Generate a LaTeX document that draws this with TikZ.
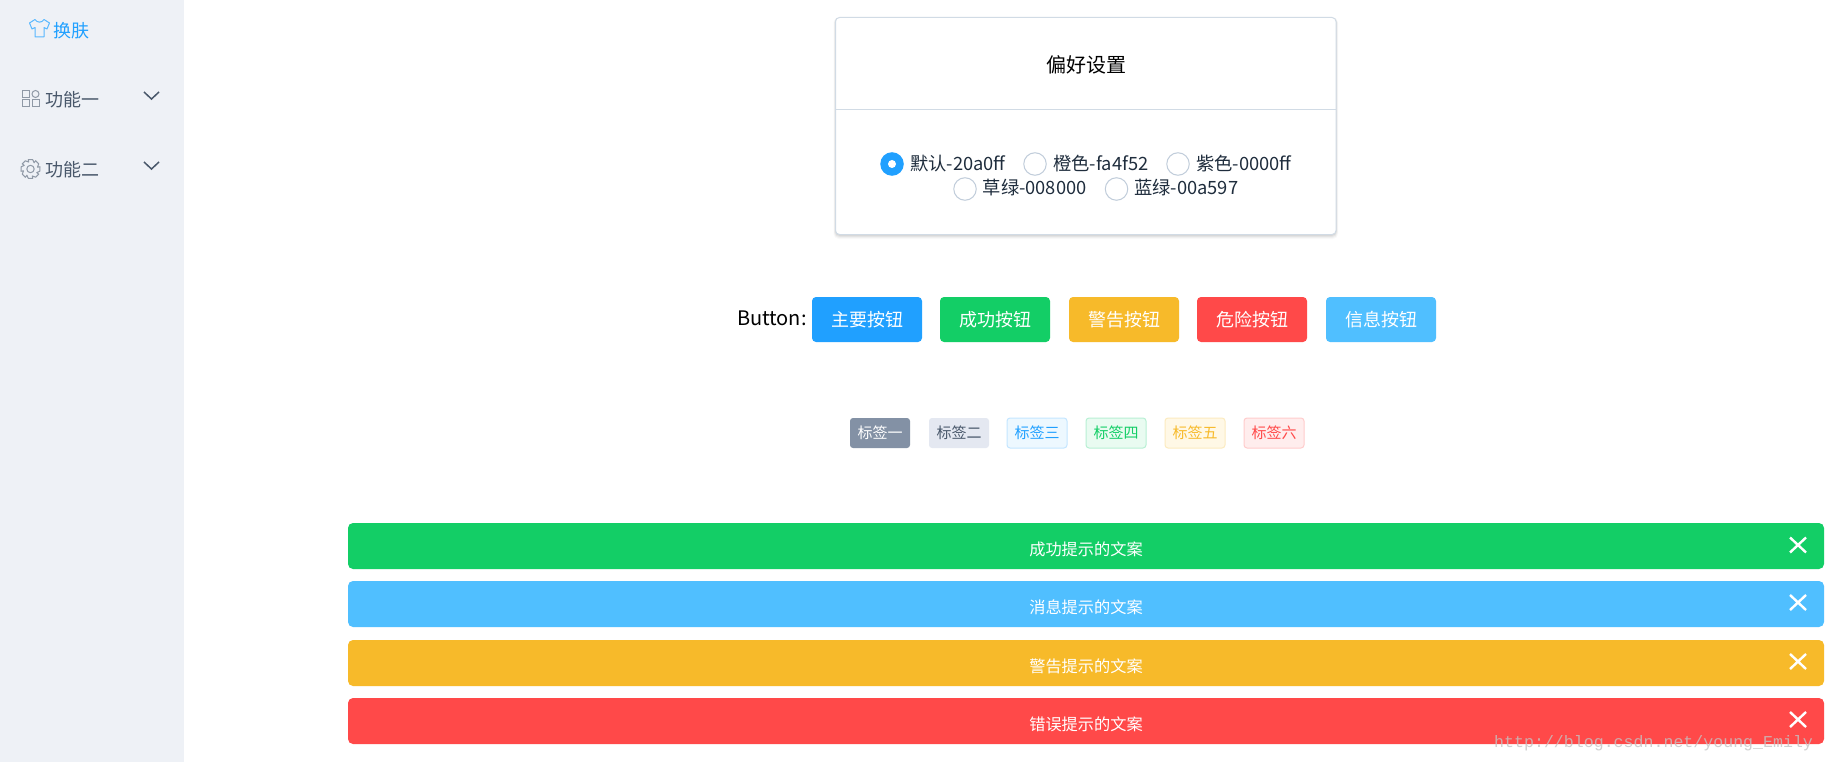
\documentclass[tikz,border=0pt]{standalone}
\usepackage{fontspec}
\setmainfont{Noto Sans CJK SC}
\newfontfamily\wmfont{Liberation Mono}
\definecolor{sidebg}{HTML}{EEF1F6}
\definecolor{sidetx}{HTML}{48576A}
\definecolor{iconc}{HTML}{8F99A6}
\definecolor{blu}{HTML}{20A0FF}
\definecolor{grn}{HTML}{13CE66}
\definecolor{yel}{HTML}{F7BA2A}
\definecolor{red2}{HTML}{FF4949}
\definecolor{sky}{HTML}{50BFFF}
\definecolor{cardb}{HTML}{D1DBE5}
\definecolor{radb}{HTML}{C0CCDA}
\definecolor{radt}{HTML}{1F2D3D}
\definecolor{wmc}{HTML}{C4C4C4}
\definecolor{t1}{HTML}{8391A5}
\definecolor{t2}{HTML}{E4E8F1}
\definecolor{t3}{HTML}{EDF8FF}\definecolor{t3b}{HTML}{C4E6FF}
\definecolor{t4}{HTML}{E9FBF1}\definecolor{t4b}{HTML}{B8F0D4}
\definecolor{t5}{HTML}{FFF8E6}\definecolor{t5b}{HTML}{FCEBC0}
\definecolor{t6}{HTML}{FFEDED}\definecolor{t6b}{HTML}{FFCCCC}
\newcommand{\fsz}[1]{\fontsize{#1}{#1}\selectfont}
\newcommand{\alerttext}[1]{\raisebox{-9pt}[0pt][0pt]{#1}}
\tikzset{
  txt/.style={inner sep=0pt,font=\fsz{18}},
  radiotxt/.style={txt,anchor=west,text=radt,font=\fsz{18.3}},
  radio/.style={circle,draw=radb,fill=white,line width=1pt,minimum size=22.5pt,inner sep=0pt},
  radioon/.style={circle,draw=blu,fill=blu,line width=1pt,minimum size=22.5pt,inner sep=0pt},
  btn/.style={fill=#1,rounded corners=4pt,minimum width=110pt,minimum height=45pt,inner sep=0pt,text=white,font=\fsz{18}},
  tagbox/.style={rounded corners=3pt,minimum width=60pt,minimum height=30pt,inner sep=0pt,font=\fsz{15},line width=1pt},
  alertbar/.style={fill=#1,rounded corners=5pt,minimum width=1476pt,minimum height=46pt,inner sep=0pt,text=white,font=\fsz{16.2}},
  closex/.style={draw=white,line width=2.4pt},
  chev/.style={draw=sidetx,line width=1.5pt},
  icon/.style={draw=iconc,line width=1pt}
}
\begin{document}
\begin{tikzpicture}[x=1pt,y=-1pt]
\useasboundingbox (0,0) rectangle (1825,762);
\fill[white] (0,0) rectangle (1825,762);
% sidebar
\fill[sidebg] (0,0) rectangle (184,762);
\draw[draw=blu!75,line width=1pt,line join=round] (35,19.5) -- (29.5,23) -- (32,29) -- (35,27.5) -- (35,37) -- (44,37) -- (44,27.5) -- (47,29) -- (49.5,23) -- (44,19.5) .. controls (42,23) and (37,23) .. (35,19.5) -- cycle;
\node[txt,anchor=west,text=blu] (skin) at (53.5,31) {换肤};
\draw[icon] (22.5,90.5) rectangle (29.5,97.5);
\draw[icon] (22.5,100) rectangle (29.5,107);
\draw[icon] (32,100) rectangle (39,107);
\draw[icon] (35.5,94) circle (3.5);
\node[txt,anchor=west,text=sidetx] (f1) at (45,100) {功能一};
\draw[chev] (144,92) -- (151.5,99) -- (159,92);
\begin{scope}[shift={(30.5,169)}]
\foreach \a in {0,45,...,315}
  \draw[icon,line join=round,line cap=round] (\a-13:9.7) -- (\a+13:9.7) -- (\a+30:7.2) -- (\a+32:9.7);
\draw[icon] (0,0) circle (3.7);
\end{scope}
\node[txt,anchor=west,text=sidetx] (f2) at (45,170) {功能二};
\draw[chev] (144,162) -- (151.5,169) -- (159,162);
% card
\foreach \s/\o in {4/.025,3/.035,2/.045,1/.055}
  \fill[black,opacity=\o,rounded corners=5pt] (835.5-\s/2,17.5) rectangle (1336+\s/2,235+\s);
\draw[draw=cardb,fill=white,line width=1pt,rounded corners=4pt] (835.5,17.5) rectangle (1336,234.5);
\draw[draw=cardb,line width=1pt] (835.5,109.5) -- (1336,109.5);
\node[txt,font=\fsz{20},text=black] (title) at (1086,64.5) {偏好设置};
\node[radioon] (r1) at (892,164) {};
\fill[white] (r1.center) circle (4);
\node[radiotxt] (l1) at (910,164) {默认-20a0ff};
\node[radio] (r2) at (1035,164) {};
\node[radiotxt] (l2) at (1053,164) {橙色-fa4f52};
\node[radio] (r3) at (1178,164) {};
\node[radiotxt] (l3) at (1196,164) {紫色-0000ff};
\node[radio] (r4) at (965,189) {};
\node[radiotxt] (l4) at (982.5,188) {草绿-008000};
\node[radio] (r5) at (1116.5,189) {};
\node[radiotxt] (l5) at (1134,188) {蓝绿-00a597};
% buttons
\node[txt,anchor=west,text=black,font=\fsz{20}] (blabel) at (737,318.5) {Button:};
\node[btn=blu] (b1) at (867,319.5) {主要按钮};
\node[btn=grn] (b2) at (995,319.5) {成功按钮};
\node[btn=yel] (b3) at (1124,319.5) {警告按钮};
\node[btn=red2] (b4) at (1252,319.5) {危险按钮};
\node[btn=sky] (b5) at (1381,319.5) {信息按钮};
% tags
\node[tagbox,fill=t1,text=white] (g1) at (880,433) {标签一};
\node[tagbox,fill=t2,text=sidetx] (g2) at (959,433) {标签二};
\node[tagbox,fill=t3,draw=t3b,text=blu] (g3) at (1037,433) {标签三};
\node[tagbox,fill=t4,draw=t4b,text=grn] (g4) at (1116,433) {标签四};
\node[tagbox,fill=t5,draw=t5b,text=yel] (g5) at (1195,433) {标签五};
\node[tagbox,fill=t6,draw=t6b,text=red2] (g6) at (1274,433) {标签六};
% alerts
\node[alertbar=grn] (a1) at (1086,546) {\alerttext{成功提示的文案}};
\node[alertbar=sky] (a2) at (1086,604) {\alerttext{消息提示的文案}};
\node[alertbar=yel] (a3) at (1086,663) {\alerttext{警告提示的文案}};
\node[alertbar=red2] (a4) at (1086,721) {\alerttext{错误提示的文案}};
\foreach \c in {545,602.5,661.5,719.5}
  \draw[closex] (1790,\c-7.5) -- (1806,\c+7.5) (1806,\c-7.5) -- (1790,\c+7.5);
% watermark
\node[inner sep=0pt,anchor=west,text=wmc,text opacity=.8,font=\wmfont\fsz{16.6}] (wm) at (1494,743) {http://blog.csdn.net/young\_Emily};
\end{tikzpicture}
\end{document}
